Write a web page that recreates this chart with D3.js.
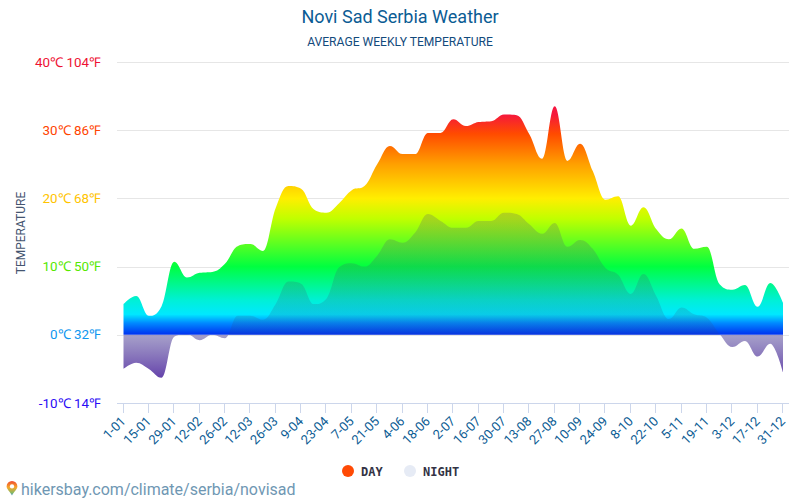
<!DOCTYPE html>
<html><head><meta charset="utf-8">
<script src="https://cdn.jsdelivr.net/npm/d3@7/dist/d3.min.js"></script>
<style>
html,body{margin:0;padding:0;background:#fff;overflow:hidden}
text{font-family:Roboto,sans-serif}
</style></head><body>
<svg id="c" width="800" height="500"></svg>
<script>
const titleText="Novi Sad Serbia Weather";
const subtitleText="AVERAGE WEEKLY TEMPERATURE";
const yAxisTitle="TEMPERATURE";
const footerText="hikersbay.com/climate/serbia/novisad";
const tickLabels=["1-01","15-01","29-01","12-02","26-02","12-03","26-03","9-04","23-04","7-05","21-05","4-06","18-06","2-07","16-07","30-07","13-08","27-08","10-09","24-09","8-10","22-10","5-11","19-11","3-12","17-12","31-12"];
const dayValues=[4.5,5.7,2.8,4.2,10.7,8.4,9.1,9.2,10.4,13,13.3,12.3,18.6,21.8,21.4,18.4,17.9,19.3,21.2,21.8,25,27.7,26.5,26.5,29.6,29.6,31.6,30.6,31.2,31.3,32.3,32.2,29.4,25.8,33.5,25.5,28,24,19.8,20.3,16,18.7,15.5,14,15.6,12.6,12.9,7.4,6.6,7.3,4.1,7.6,4.7];
const nightValues=[-5,-4.1,-5,-6.3,-0.3,0.1,-0.8,0,-0.5,2.8,2.8,2.2,4.5,7.8,7.5,4.5,5.3,9.9,10.5,10,11.6,14,13.5,15,17.7,16.7,15.7,15.7,16.7,16.7,17.9,17.7,16.2,14.8,16.4,12.9,13.9,12.6,9.8,8.8,6,8.9,5.7,2.3,4,3,2.5,0.1,-1.8,-0.9,-3.2,-1.3,-5.5];
const yTicks=[40,30,20,10,0,-10];
const yTickColors=["#ee1133","#ff4400","#ffc400","#55e800","#0f97ef","#2a0bf5"];
const legendNames=["DAY","NIGHT"];
const legendColors=["#ff4a05","#e6ebf5"];

// Highcharts-style spline as a d3 curve
function hcSpline(ctx){return new HC(ctx)}
class HC{
  constructor(c){this.c=c;this._area=false;this._n=0}
  areaStart(){this._area=true;this._n=0}
  areaEnd(){this.c.closePath();this._area=false}
  lineStart(){this.p=[]}
  point(x,y){this.p.push([+x,+y])}
  lineEnd(){
    const p=this.p,c=this.c,s=1.5,d=s+1,n=p.length;
    if(this._area&&this._n>0)c.lineTo(p[0][0],p[0][1]);else c.moveTo(p[0][0],p[0][1]);
    this._n++;
    const ctrl=i=>{
      if(i<=0||i>=n-1)return{l:p[i],r:p[i]};
      const [x,y]=p[i],[lx,ly]=p[i-1],[nx,ny]=p[i+1];
      let lcx=(s*x+lx)/d,lcy=(s*y+ly)/d,rcx=(s*x+nx)/d,rcy=(s*y+ny)/d;
      const corr=(rcy-lcy)*(rcx-x)/(rcx-lcx)+y-rcy;lcy+=corr;rcy+=corr;
      if(lcy>ly&&lcy>y){lcy=Math.max(ly,y);rcy=2*y-lcy}
      else if(lcy<ly&&lcy<y){lcy=Math.min(ly,y);rcy=2*y-lcy}
      if(rcy>ny&&rcy>y){rcy=Math.max(ny,y);lcy=2*y-rcy}
      else if(rcy<ny&&rcy<y){rcy=Math.min(ny,y);lcy=2*y-rcy}
      return{l:[lcx,lcy],r:[rcx,rcy]};
    };
    for(let i=1;i<n;i++){const a=ctrl(i-1).r,b=ctrl(i).l;c.bezierCurveTo(a[0],a[1],b[0],b[1],p[i][0],p[i][1])}
  }
}

const svg=d3.select("#c");
const x=d3.scalePoint().domain(d3.range(dayValues.length)).range([123.5,783]);
const y=d3.scaleLinear().domain([-10,40]).range([403,62]);
const defs=svg.append("defs");
function grad(id,stops){
  const g=defs.append("linearGradient").attr("id",id).attr("gradientUnits","userSpaceOnUse")
    .attr("x1",0).attr("x2",0).attr("y1",y(40)).attr("y2",y(-10));
  stops.forEach(([v,col,op])=>g.append("stop").attr("offset",(40-v)/50).attr("stop-color",col).attr("stop-opacity",op==null?1:op));
}
grad("dayG",[[40,"#ff0050"],[32.3,"#f5183c"],[29.5,"#ff4a00"],[25,"#ffa000"],[20,"#ffee00"],[17,"#c0ff00"],[10,"#00ff40"],[5,"#00f0d8"],[3,"#00e8ff"],[1.7,"#0088ff"],[0,"#0030f0"]]);
grad("nightG",[[20,"#707060",0.3],[10,"#405a70",0.22],[0,"#304080",0.16],[-0.01,"#8880b8",0.75],[-6.5,"#5a35a5",0.95],[-10,"#4a20a0",1]]);
const pinG=defs.append("linearGradient").attr("id","pinG").attr("x1",0).attr("x2",0).attr("y1",0).attr("y2",1);
[[0,"#ef4b30"],[0.45,"#f6a62a"],[0.8,"#8cb860"],[1,"#4a9ac0"]].forEach(([o,c])=>pinG.append("stop").attr("offset",o).attr("stop-color",c));

// grid
const g=svg.append("g");
yTicks.slice(0,5).forEach(t=>g.append("line").attr("x1",117).attr("x2",789).attr("y1",Math.round(y(t))+.5).attr("y2",Math.round(y(t))+.5).attr("stroke","#e6e6e6"));
g.append("line").attr("x1",117).attr("x2",789).attr("y1",403.5).attr("y2",403.5).attr("stroke","#ccd6eb");

const area=vals=>d3.area().x((d,i)=>x(i)).y0(y(0)).y1(d=>y(d)).curve(hcSpline)(vals);
svg.append("path").attr("d",area(dayValues)).attr("fill","url(#dayG)");
svg.append("path").attr("d",area(nightValues)).attr("fill","url(#nightG)");

// x axis
tickLabels.forEach((t,i)=>{
  const px=x(i*2)-1;
  svg.append("line").attr("x1",Math.round(px)+.5).attr("x2",Math.round(px)+.5).attr("y1",403).attr("y2",413).attr("stroke","#ccd6eb");
  svg.append("text").attr("transform",`translate(${px+4},${422}) rotate(-45)`).attr("text-anchor","end")
    .attr("font-size",13).attr("fill","#0b5c94").text(t);
});
// y labels
yTicks.forEach((t,i)=>{
  const f=Math.round(t*9/5+32);
  svg.append("text").attr("x",101).attr("y",y(t)+4.5).attr("text-anchor","end").attr("font-size",13.4)
    .attr("fill",yTickColors[i]).text(`${t}℃ ${f}℉`);
});
svg.append("text").attr("transform","translate(25,233) rotate(-90)").attr("text-anchor","middle").attr("font-size",12).attr("fill","#445570").text(yAxisTitle);
svg.append("text").attr("x",400).attr("y",23).attr("text-anchor","middle").attr("font-size",18).attr("fill","#0b5c94").text(titleText);
svg.append("text").attr("x",400).attr("y",46).attr("text-anchor","middle").attr("font-size",12.1).attr("fill","#124a7c").text(subtitleText);
// legend
[[348,361],[410,423]].forEach(([cx,tx],i)=>{
  svg.append("circle").attr("cx",cx).attr("cy",471).attr("r",6).attr("fill",legendColors[i]);
  svg.append("text").attr("x",tx).attr("y",476).attr("font-size",12).attr("font-weight",700).style("font-family","'DejaVu Sans Mono',monospace").attr("fill","#333344").text(legendNames[i]);
});
// footer
const pin=svg.append("g").attr("transform","translate(12,490) scale(.9)");
pin.append("path").attr("d","M0,6 C-2,2 -6,-1 -6,-4 A6,6 0 1 1 6,-4 C6,-1 2,2 0,6Z").attr("fill","url(#pinG)");
pin.append("circle").attr("cx",0).attr("cy",-4).attr("r",2.4).attr("fill","#fff");
svg.append("text").attr("x",21).attr("y",495).attr("font-size",16).attr("fill","#6f97b3").text(footerText);
</script></body></html>
